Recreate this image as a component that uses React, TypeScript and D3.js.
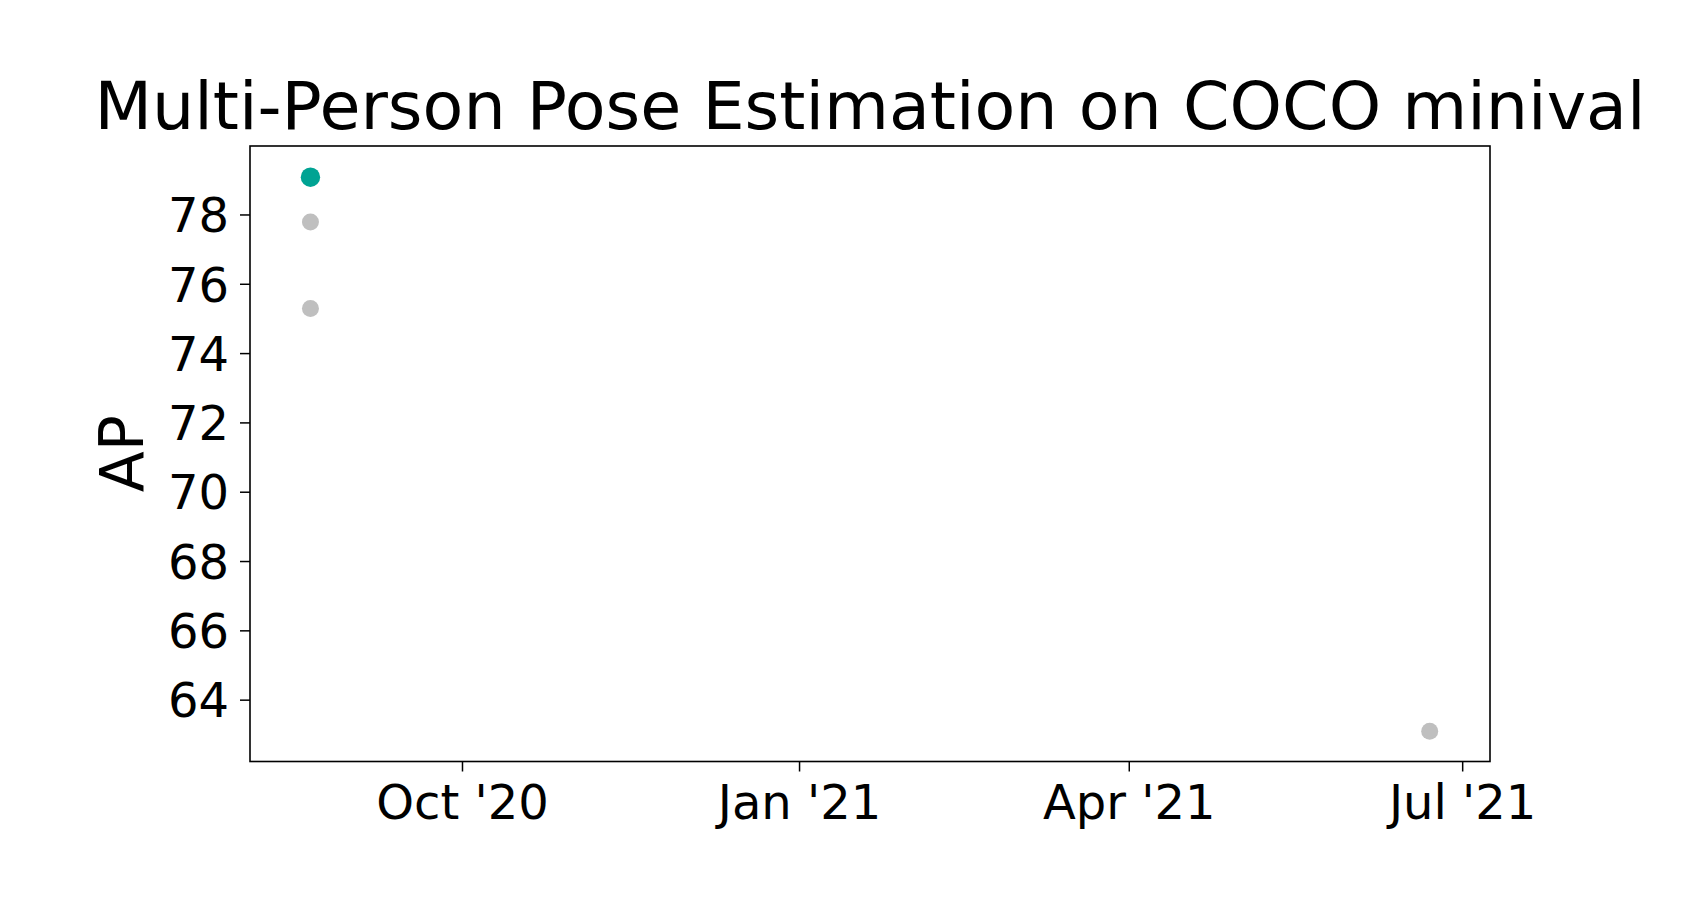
import React from 'react';
import * as d3 from 'd3';

// points
const dates = ['2020-08-20T12:00', '2020-08-20T12:00', '2020-08-20T12:00', '2021-06-22T00:00'];
const apValues = [79.09, 77.8, 75.3, 63.1];
const isBest = [true, false, false, false];
const yTicks = [64, 66, 68, 70, 72, 74, 76, 78];
const xTicks = ['2020-10-01T00:00', '2021-01-01T00:00', '2021-04-01T00:00', '2021-07-01T00:00'];
// axis limits as shown
const xLimits = ['2020-08-04T00:00', '2021-07-08T11:00'];
const yLimits = [62.23, 79.99];

const title = 'Multi-Person Pose Estimation on COCO minival';
const yLabel = 'AP';

const font = '"DejaVu Sans", sans-serif';

export default function App() {
  const width = 1700;
  const height = 900;
  const left = 250;
  const right = 1490;
  const top = 146;
  const bottom = 761.5;

  const parse = d3.utcParse('%Y-%m-%dT%H:%M');
  const pts = dates.map((d, i) => ({ date: parse(d) as Date, ap: apValues[i], best: isBest[i] }));

  const x = d3
    .scaleUtc()
    .domain(xLimits.map((s) => parse(s) as Date))
    .range([left, right]);
  const y = d3.scaleLinear().domain(yLimits).range([bottom, top]);
  const fmt = d3.utcFormat("%b '%y");

  return (
    <svg width={width} height={height} style={{ display: 'block', margin: -8 }} fontFamily={font}>
      <rect width={width} height={height} fill="#fff" />
      <text x={(left + right) / 2} y={129} textAnchor="middle" fontSize={66.7} fill="#000">
        {title}
      </text>
      <text
        transform={`translate(143,${(top + bottom) / 2}) rotate(-90)`}
        textAnchor="middle"
        fontSize={60}
        fill="#000"
      >
        {yLabel}
      </text>

      {yTicks.map((t) => (
        <g key={t}>
          <line x1={left - 10} x2={left} y1={y(t)} y2={y(t)} stroke="#000" strokeWidth={1.5} />
          <text x={229} y={y(t)} dy="0.36em" textAnchor="end" fontSize={48} fill="#000">
            {t}
          </text>
        </g>
      ))}

      {xTicks.map((s) => {
        const d = parse(s) as Date;
        return (
          <g key={s}>
            <line x1={x(d)} x2={x(d)} y1={bottom} y2={bottom + 10} stroke="#000" strokeWidth={1.5} />
            <text x={x(d)} y={819} textAnchor="middle" fontSize={48} fill="#000">
              {fmt(d)}
            </text>
          </g>
        );
      })}

      {pts
        .filter((p) => !p.best)
        .map((p, i) => (
          <circle key={'g' + i} cx={x(p.date)} cy={y(p.ap)} r={8.5} fill="#bfbfbf" />
        ))}
      {pts
        .filter((p) => p.best)
        .map((p, i) => (
          <circle key={'b' + i} cx={x(p.date)} cy={y(p.ap)} r={9.7} fill="#00a393" />
        ))}

      <rect x={left} y={top} width={right - left} height={bottom - top} fill="none" stroke="#000" strokeWidth={1.6} />
    </svg>
  );
}
